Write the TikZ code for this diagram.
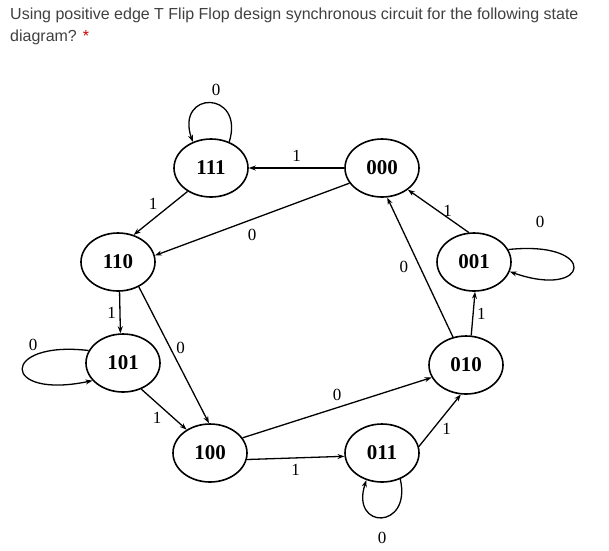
\documentclass[tikz,border=0pt]{standalone}
\usepackage{fontspec}
\setmainfont{Liberation Serif}
\newfontfamily\uisans{Liberation Sans}
\usetikzlibrary{shapes.geometric,arrows.meta,positioning}
\begin{document}
\begin{tikzpicture}[x=1pt,y=-1pt,
  st/.style={ellipse,draw,line width=1.6pt,minimum width=74pt,minimum height=58pt,inner sep=0pt,font=\fontsize{21}{21}\selectfont\bfseries},
  ed/.style={-{Stealth[length=7pt,width=5pt]},line width=1.3pt},
  lb/.style={font=\fontsize{17}{17}\selectfont}]
\useasboundingbox (0,0) rectangle (609,550);
\node[anchor=base west,inner sep=0pt,font=\uisans\fontsize{16}{17}\selectfont,text=black!75] (t1) at (10,19) {Using positive edge T Flip Flop design synchronous circuit for the following state};
\node[anchor=base west,inner sep=0pt,font=\uisans\fontsize{16}{17}\selectfont,text=black!75] (t2) at (10,41) {diagram? \textcolor{red!80!black}{*}};
\node[st] (s111) at (211,168) {111};
\node[st] (s000) at (382,168) {000};
\node[st] (s110) at (118,262) {110};
\node[st] (s001) at (474,262) {001};
\node[st] (s101) at (123,363) {101};
\node[st] (s010) at (466,365) {010};
\node[st] (s100) at (210,453) {100};
\node[st] (s011) at (382,453) {011};
\draw[ed] (s000.west) -- (s111.east) node[lb,midway,above=3pt] (l1) {1};
\draw[ed] (s111.225) -- (s110.60) node[lb,midway,above left=-1pt] (l2) {1};
\draw[ed] (s000.205) -- (s110.10) node[lb,pos=0.5,below=6pt] (l3) {0};
\draw[ed] (s001.100) -- (s000.-40) node[lb,midway,right=1pt] (l4) {1};
\draw[ed] (s001.20) .. controls (600,240) and (590,300) .. (s001.-15);
\node[lb] (l5) at (540,222) {0};
\draw[ed] (s010.80) -- (s001.-88) node[lb,midway,right=0pt] (l6) {1};
\draw[ed] (s010.115) -- (s000.-80) node[lb,midway,left=8pt] (l7) {0};
\draw[ed] (s110.-87) -- (s101.95) node[lb,midway,left=0pt] (l8) {1};
\draw[ed] (s110.-50) -- (s100.92) node[lb,pos=0.45,right=2pt] (l9) {0};
\draw[ed] (s101.160) .. controls (0,340) and (0,400) .. (s101.-150);
\node[lb] (l10) at (33,345) {0};
\draw[ed] (s101.-55) -- (s100.135) node[lb,midway,below left=-2pt] (l11) {1};
\draw[ed] (s100.25) -- (s010.200) node[lb,midway,above=3pt] (l12) {0};
\draw[ed] (s100.-10) -- (s011.185) node[lb,midway,below=2pt] (l13) {1};
\draw[ed] (s011.10) -- (s010.-100) node[lb,midway,below right=-2pt] (l14) {1};
\draw[ed] (s011.-55) .. controls (412,530) and (350,530) .. (s011.-120);
\node[lb] (l15) at (382,538) {0};
\draw[ed] (s111.55) .. controls (245,90) and (175,90) .. (s111.125);
\node[lb] (l16) at (216,90) {0};
\end{tikzpicture}
\end{document}
